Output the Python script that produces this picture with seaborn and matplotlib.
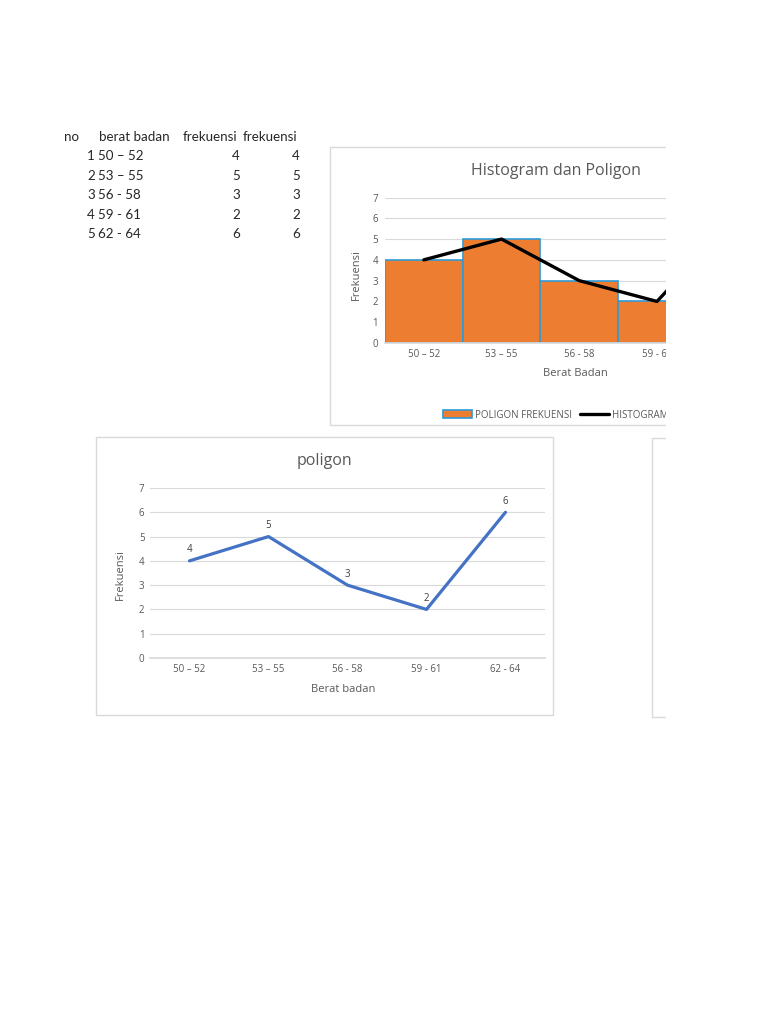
import matplotlib
matplotlib.use("Agg")
import matplotlib.pyplot as plt
import seaborn as sns
from matplotlib.patches import Rectangle

# data from the sheet
nomor = [1, 2, 3, 4, 5]
berat_badan = ["50 – 52", "53 – 55", "56 - 58", "59 - 61", "62 - 64"]
frekuensi = [4, 5, 3, 2, 6]
header = ["no", "berat badan", "frekuensi", "frekuensi"]
y_ticks = [0, 1, 2, 3, 4, 5, 6, 7]

W, H = 768, 1024
TXT = "#595959"
GRID = "#D9D9D9"
ORANGE = "#ED7D31"
EDGE = "#2E9BD6"
BLUE = "#4472C4"
CHART_FONT = ["Open Sans", "DejaVu Sans"]
SHEET_FONT = ["Lato", "DejaVu Sans"]
SHEET_SIZE = 9.6

sns.set_theme(style="white")
plt.rcParams["font.family"] = CHART_FONT

fig = plt.figure(figsize=(W / 100, H / 100), dpi=100)
fig.patch.set_facecolor("white")


def fx(x):
    return x / W


def fy(y):
    return 1 - y / H


def add_axes_px(left, top, right, bottom):
    return fig.add_axes([fx(left), fy(bottom), (right - left) / W, (bottom - top) / H])


def chart_box(left, top, right, bottom):
    fig.add_artist(Rectangle((fx(left), fy(bottom)), (right - left) / W, (bottom - top) / H,
                             transform=fig.transFigure, fill=False, edgecolor=GRID, lw=1))


def style_axes(ax, pad_y=3, pad_x=3):
    ax.set_ylim(0, 7)
    ax.set_yticks(y_ticks)
    ax.set_xlim(-0.5, len(berat_badan) - 0.5)
    ax.yaxis.grid(True, color=GRID, lw=0.8)
    ax.xaxis.grid(False)
    ax.set_axisbelow(True)
    for s in ["left", "right", "top"]:
        ax.spines[s].set_visible(False)
    ax.spines["bottom"].set_color(GRID)
    ax.tick_params(axis="y", length=0, labelsize=7, labelcolor=TXT, pad=pad_y)
    ax.tick_params(axis="x", length=0, labelsize=7, labelcolor=TXT, pad=pad_x)
    ax.set_xlabel("")
    ax.set_ylabel("")


# --- sheet table ---
for name, x in zip(header, [64, 99, 183, 243]):
    fig.text(fx(x), fy(137), name, fontsize=SHEET_SIZE, family=SHEET_FONT, va="center")
row_y = [156, 175.5, 195, 215, 234.5]
for n, cat, f, y in zip(nomor, berat_badan, frekuensi, row_y):
    fig.text(fx(95), fy(y), str(n), fontsize=SHEET_SIZE, family=SHEET_FONT, va="center", ha="right")
    fig.text(fx(98), fy(y), cat, fontsize=SHEET_SIZE, family=SHEET_FONT, va="center")
    fig.text(fx(240), fy(y), str(f), fontsize=SHEET_SIZE, family=SHEET_FONT, va="center", ha="right")
    fig.text(fx(300), fy(y), str(f), fontsize=SHEET_SIZE, family=SHEET_FONT, va="center", ha="right")

# --- chart 1: histogram dan poligon ---
chart_box(330, 147, 790, 425)
ax1 = add_axes_px(385, 197.5, 385 + 77.7 * len(berat_badan), 343)
sns.barplot(x=berat_badan, y=frekuensi, ax=ax1, color=ORANGE, saturation=1, width=1.0,
            edgecolor=EDGE, linewidth=1.2, errorbar=None, label="POLIGON FREKUENSI")
sns.lineplot(x=berat_badan, y=frekuensi, ax=ax1, color="black", lw=2.4, label="HISTOGRAM")
style_axes(ax1, pad_y=5, pad_x=4)
handles, labels = ax1.get_legend_handles_labels()
order = [labels.index("POLIGON FREKUENSI"), labels.index("HISTOGRAM")]
ax1.legend([handles[i] for i in order], [labels[i] for i in order], ncol=2, frameon=False,
           loc="center", bbox_to_anchor=(fx(556), fy(415)), bbox_transform=fig.transFigure,
           fontsize=7, labelcolor=TXT, handlelength=3.0, handleheight=0.8,
           handletextpad=0.3, columnspacing=0.8)
fig.text(fx(556), fy(171), "Histogram dan Poligon", fontsize=11.5, color=TXT, ha="center", va="center")
fig.text(fx(356), fy(275), "Frekuensi", fontsize=8, color=TXT, ha="center", va="center", rotation=90)
fig.text(fx(575), fy(373), "Berat Badan", fontsize=8, color=TXT, ha="center", va="center")

# --- chart 2: poligon ---
chart_box(96, 437, 553, 715)
ax2 = add_axes_px(150, 488, 545, 658)
sns.lineplot(x=berat_badan, y=frekuensi, ax=ax2, color=BLUE, lw=2.3)
style_axes(ax2, pad_y=4, pad_x=4)
for i, v in enumerate(frekuensi):
    ax2.annotate(str(v), (i, v), xytext=(0, 8), textcoords="offset points",
                 ha="center", va="center", fontsize=7, color="#404040")
fig.text(fx(324), fy(461), "poligon", fontsize=11.5, color=TXT, ha="center", va="center")
fig.text(fx(120), fy(575), "Frekuensi", fontsize=8, color=TXT, ha="center", va="center", rotation=90)
fig.text(fx(343), fy(689), "Berat badan", fontsize=8, color=TXT, ha="center", va="center")

# third chart, only its left edge is visible
chart_box(652, 438, 720, 717)

# the screenshot is cut off on the right
fig.add_artist(Rectangle((fx(666), 0), 1, 1, transform=fig.transFigure,
                         facecolor="white", edgecolor="none", zorder=100))

fig.savefig("out.png", dpi=100, facecolor="white")
